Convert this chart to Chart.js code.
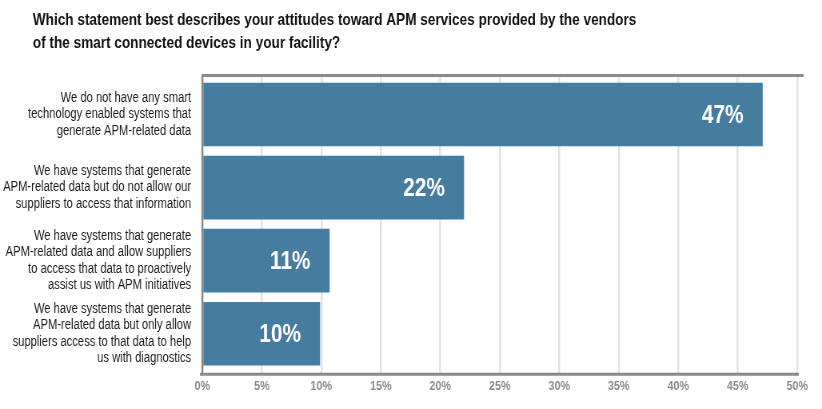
<!DOCTYPE html>
<html>
<head>
<meta charset="utf-8">
<script src="https://cdn.jsdelivr.net/npm/chart.js@4/dist/chart.umd.min.js"></script>
<style>
html,body{margin:0;padding:0;background:#fff;overflow:hidden;}
#wrap{width:1028px;height:409px;position:relative;transform:scaleX(0.79961);transform-origin:0 0;}
</style>
</head>
<body>
<div id="wrap"><canvas id="c" width="1028" height="409"></canvas></div>
<script>
const titleLines = [
  "Which statement best describes your attitudes toward APM services provided by the vendors",
  "of the smart connected devices in your facility?"
];
const categories = [
  ["We do not have any smart", "technology enabled systems that", "generate APM-related data"],
  ["We have systems that generate", "APM-related data but do not allow our", "suppliers to access that information"],
  ["We have systems that generate", "APM-related data and allow suppliers", "to access that data to proactively", "assist us with APM initiatives"],
  ["We have systems that generate", "APM-related data but only allow", "suppliers access to that data to help", "us with diagnostics"]
];
const values = [47.1, 22.0, 10.7, 9.9];
const valueLabels = ["47%", "22%", "11%", "10%"];
const tickValues = [0, 5, 10, 15, 20, 25, 30, 35, 40, 45, 50];

const FONT = "'Liberation Sans', Arial, sans-serif";
const AXIS_GRAY = '#8a8a8a';
const GRID_GRAY = '#e2e2e2';

const titlePlugin = {
  id: 'customTitle',
  afterDraw(chart) {
    const ctx = chart.ctx;
    ctx.save();
    ctx.fillStyle = '#111111';
    ctx.font = "bold 17px " + FONT;
    ctx.textAlign = 'left';
    ctx.textBaseline = 'middle';
    titleLines.forEach((t, i) => ctx.fillText(t, 41, 20 + i * 23));
    ctx.restore();
  }
};

const barLabelPlugin = {
  id: 'barLabels',
  afterDatasetsDraw(chart) {
    const ctx = chart.ctx;
    const meta = chart.getDatasetMeta(0);
    ctx.save();
    ctx.fillStyle = '#ffffff';
    ctx.font = "bold 26px " + FONT;
    ctx.textAlign = 'right';
    ctx.textBaseline = 'middle';
    meta.data.forEach((bar, i) => {
      ctx.fillText(valueLabels[i], bar.x - 24, bar.y + 1);
    });
    ctx.restore();
  }
};

const frameTop = (a) => a.top - 2.5;
const frameBottom = (a) => a.bottom + 4;

const gridExtPlugin = {
  id: 'gridExt',
  beforeDatasetsDraw(chart) {
    const a = chart.chartArea;
    const xs = chart.scales.x;
    const ctx = chart.ctx;
    ctx.save();
    ctx.strokeStyle = GRID_GRAY;
    ctx.lineWidth = 2.5;
    tickValues.forEach(v => {
      const px = xs.getPixelForValue(v);
      ctx.beginPath();
      ctx.moveTo(px, frameTop(a));
      ctx.lineTo(px, a.top);
      ctx.moveTo(px, a.bottom);
      ctx.lineTo(px, frameBottom(a));
      ctx.stroke();
    });
    ctx.restore();
  }
};

const framePlugin = {
  id: 'frame',
  afterDraw(chart) {
    const a = chart.chartArea;
    const ctx = chart.ctx;
    ctx.save();
    ctx.strokeStyle = AXIS_GRAY;
    ctx.lineWidth = 3;
    ctx.beginPath();
    ctx.moveTo(a.left - 1, frameTop(a));
    ctx.lineTo(a.right + 8, frameTop(a));
    ctx.moveTo(a.left - 3, frameBottom(a));
    ctx.lineTo(a.right + 2, frameBottom(a));
    ctx.stroke();
    ctx.lineWidth = 2.5;
    ctx.beginPath();
    ctx.moveTo(a.left, frameTop(a));
    ctx.lineTo(a.left, frameBottom(a));
    ctx.stroke();
    ctx.restore();
  }
};

new Chart(document.getElementById('c'), {
  type: 'bar',
  data: {
    labels: categories,
    datasets: [{
      data: values,
      backgroundColor: '#467ca0',
      borderWidth: 0,
      barPercentage: 0.871,
      categoryPercentage: 1.0
    }]
  },
  options: {
    indexAxis: 'y',
    responsive: false,
    maintainAspectRatio: false,
    animation: false,
    devicePixelRatio: 1,
    layout: { padding: { left: 0, right: 31, top: 78, bottom: 0 } },
    plugins: {
      legend: { display: false },
      tooltip: { enabled: false },
      title: { display: false }
    },
    scales: {
      x: {
        min: 0, max: 50,
        afterBuildTicks(scale) { scale.ticks = tickValues.map(v => ({ value: v })); },
        afterFit(scale) { scale.height = 37; },
        grid: { color: GRID_GRAY, lineWidth: 2.5, drawTicks: false },
        border: { display: false },
        ticks: {
          padding: 8,
          color: AXIS_GRAY,
          font: { family: FONT, size: 13.5, weight: 'bold' },
          callback: (v) => v + '%',
          maxRotation: 0
        }
      },
      y: {
        afterFit(scale) { scale.width = 253; },
        grid: { display: false, drawTicks: false },
        border: { display: false },
        ticks: {
          padding: 14,
          color: '#1a1a1a',
          font: { family: FONT, size: 14, lineHeight: 1.18 }
        }
      }
    }
  },
  plugins: [gridExtPlugin, barLabelPlugin, framePlugin, titlePlugin]
});
</script>
</body>
</html>
